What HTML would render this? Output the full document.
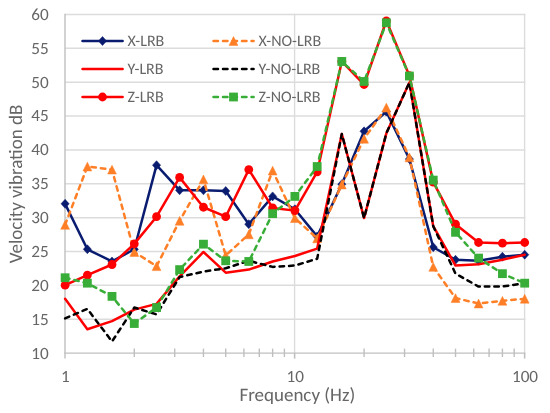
<!DOCTYPE html>
<html><head><meta charset="utf-8"><style>
html,body{margin:0;padding:0;background:#fff;}
svg{display:block;}
text{font-family:"Carlito","Liberation Sans",sans-serif;fill:#666666;text-rendering:geometricPrecision;}
.tk{font-size:17.2px;}
.lg{font-size:16px;}
.tt{font-size:19px;}
</style></head><body>
<svg width="550" height="413" viewBox="0 0 550 413">
<rect width="550" height="413" fill="#fff"/>
<line x1="65.1" y1="319.23" x2="525.40" y2="319.23" stroke="#DCDCDC" stroke-width="1.5"/>
<line x1="65.1" y1="285.37" x2="525.40" y2="285.37" stroke="#DCDCDC" stroke-width="1.5"/>
<line x1="65.1" y1="251.50" x2="525.40" y2="251.50" stroke="#DCDCDC" stroke-width="1.5"/>
<line x1="65.1" y1="217.64" x2="525.40" y2="217.64" stroke="#DCDCDC" stroke-width="1.5"/>
<line x1="65.1" y1="183.77" x2="525.40" y2="183.77" stroke="#DCDCDC" stroke-width="1.5"/>
<line x1="65.1" y1="149.91" x2="525.40" y2="149.91" stroke="#DCDCDC" stroke-width="1.5"/>
<line x1="65.1" y1="116.05" x2="525.40" y2="116.05" stroke="#DCDCDC" stroke-width="1.5"/>
<line x1="65.1" y1="82.18" x2="525.40" y2="82.18" stroke="#DCDCDC" stroke-width="1.5"/>
<line x1="65.1" y1="48.31" x2="525.40" y2="48.31" stroke="#DCDCDC" stroke-width="1.5"/>
<line x1="65.1" y1="14.45" x2="525.40" y2="14.45" stroke="#DCDCDC" stroke-width="1.5"/>
<line x1="294.60" y1="13.75" x2="294.60" y2="358.5" stroke="#DCDCDC" stroke-width="1.4"/>
<line x1="524.60" y1="13.75" x2="524.60" y2="358.5" stroke="#DCDCDC" stroke-width="1.4"/>
<line x1="65.0" y1="13.75" x2="65.0" y2="358.5" stroke="#BFBFBF" stroke-width="1.4"/>
<line x1="64.3" y1="353.10" x2="525.40" y2="353.10" stroke="#BFBFBF" stroke-width="1.4"/>
<line x1="134.28" y1="348.6" x2="134.28" y2="357" stroke="#BFBFBF" stroke-width="1.4"/>
<line x1="174.74" y1="348.6" x2="174.74" y2="357" stroke="#BFBFBF" stroke-width="1.4"/>
<line x1="203.45" y1="348.6" x2="203.45" y2="357" stroke="#BFBFBF" stroke-width="1.4"/>
<line x1="225.72" y1="348.6" x2="225.72" y2="357" stroke="#BFBFBF" stroke-width="1.4"/>
<line x1="243.92" y1="348.6" x2="243.92" y2="357" stroke="#BFBFBF" stroke-width="1.4"/>
<line x1="259.30" y1="348.6" x2="259.30" y2="357" stroke="#BFBFBF" stroke-width="1.4"/>
<line x1="272.63" y1="348.6" x2="272.63" y2="357" stroke="#BFBFBF" stroke-width="1.4"/>
<line x1="284.38" y1="348.6" x2="284.38" y2="357" stroke="#BFBFBF" stroke-width="1.4"/>
<line x1="364.08" y1="348.6" x2="364.08" y2="357" stroke="#BFBFBF" stroke-width="1.4"/>
<line x1="404.54" y1="348.6" x2="404.54" y2="357" stroke="#BFBFBF" stroke-width="1.4"/>
<line x1="433.25" y1="348.6" x2="433.25" y2="357" stroke="#BFBFBF" stroke-width="1.4"/>
<line x1="455.52" y1="348.6" x2="455.52" y2="357" stroke="#BFBFBF" stroke-width="1.4"/>
<line x1="473.72" y1="348.6" x2="473.72" y2="357" stroke="#BFBFBF" stroke-width="1.4"/>
<line x1="489.10" y1="348.6" x2="489.10" y2="357" stroke="#BFBFBF" stroke-width="1.4"/>
<line x1="502.43" y1="348.6" x2="502.43" y2="357" stroke="#BFBFBF" stroke-width="1.4"/>
<line x1="514.18" y1="348.6" x2="514.18" y2="357" stroke="#BFBFBF" stroke-width="1.4"/>
<line x1="294.6" y1="353.10" x2="294.6" y2="358.5" stroke="#BFBFBF" stroke-width="1.4"/>
<line x1="524.6" y1="353.10" x2="524.6" y2="358.5" stroke="#BFBFBF" stroke-width="1.4"/>
<polyline points="65.10,203.84 87.37,249.27 112.01,261.47 134.28,249.27 156.55,165.19 179.61,190.28 203.45,190.28 225.72,190.96 248.79,224.18 272.63,196.38 294.90,209.26 317.17,236.38 341.81,184.18 364.08,131.29 386.35,111.63 409.41,159.09 433.25,247.23 455.52,259.77 478.59,260.79 502.43,256.72 524.70,254.69" fill="none" stroke="#0A1C70" stroke-width="2.5" stroke-linejoin="round" stroke-linecap="round"/>
<path d="M65.10 199.34L69.20 203.84L65.10 208.34L61.00 203.84Z" fill="#0A1C70" stroke="#0A1C70" stroke-width="0.5"/>
<path d="M87.37 244.77L91.47 249.27L87.37 253.77L83.27 249.27Z" fill="#0A1C70" stroke="#0A1C70" stroke-width="0.5"/>
<path d="M112.01 256.97L116.11 261.47L112.01 265.97L107.91 261.47Z" fill="#0A1C70" stroke="#0A1C70" stroke-width="0.5"/>
<path d="M134.28 244.77L138.38 249.27L134.28 253.77L130.18 249.27Z" fill="#0A1C70" stroke="#0A1C70" stroke-width="0.5"/>
<path d="M156.55 160.69L160.65 165.19L156.55 169.69L152.45 165.19Z" fill="#0A1C70" stroke="#0A1C70" stroke-width="0.5"/>
<path d="M179.61 185.78L183.71 190.28L179.61 194.78L175.51 190.28Z" fill="#0A1C70" stroke="#0A1C70" stroke-width="0.5"/>
<path d="M203.45 185.78L207.55 190.28L203.45 194.78L199.35 190.28Z" fill="#0A1C70" stroke="#0A1C70" stroke-width="0.5"/>
<path d="M225.72 186.46L229.82 190.96L225.72 195.46L221.62 190.96Z" fill="#0A1C70" stroke="#0A1C70" stroke-width="0.5"/>
<path d="M248.79 219.68L252.89 224.18L248.79 228.68L244.69 224.18Z" fill="#0A1C70" stroke="#0A1C70" stroke-width="0.5"/>
<path d="M272.63 191.88L276.73 196.38L272.63 200.88L268.53 196.38Z" fill="#0A1C70" stroke="#0A1C70" stroke-width="0.5"/>
<path d="M294.90 204.76L299.00 209.26L294.90 213.76L290.80 209.26Z" fill="#0A1C70" stroke="#0A1C70" stroke-width="0.5"/>
<path d="M317.17 231.88L321.27 236.38L317.17 240.88L313.07 236.38Z" fill="#0A1C70" stroke="#0A1C70" stroke-width="0.5"/>
<path d="M341.81 179.68L345.91 184.18L341.81 188.68L337.71 184.18Z" fill="#0A1C70" stroke="#0A1C70" stroke-width="0.5"/>
<path d="M364.08 126.79L368.18 131.29L364.08 135.79L359.98 131.29Z" fill="#0A1C70" stroke="#0A1C70" stroke-width="0.5"/>
<path d="M386.35 107.13L390.45 111.63L386.35 116.13L382.25 111.63Z" fill="#0A1C70" stroke="#0A1C70" stroke-width="0.5"/>
<path d="M409.41 154.59L413.51 159.09L409.41 163.59L405.31 159.09Z" fill="#0A1C70" stroke="#0A1C70" stroke-width="0.5"/>
<path d="M433.25 242.73L437.35 247.23L433.25 251.73L429.15 247.23Z" fill="#0A1C70" stroke="#0A1C70" stroke-width="0.5"/>
<path d="M455.52 255.27L459.62 259.77L455.52 264.27L451.42 259.77Z" fill="#0A1C70" stroke="#0A1C70" stroke-width="0.5"/>
<path d="M478.59 256.29L482.69 260.79L478.59 265.29L474.49 260.79Z" fill="#0A1C70" stroke="#0A1C70" stroke-width="0.5"/>
<path d="M502.43 252.22L506.53 256.72L502.43 261.22L498.33 256.72Z" fill="#0A1C70" stroke="#0A1C70" stroke-width="0.5"/>
<path d="M524.70 250.19L528.80 254.69L524.70 259.19L520.60 254.69Z" fill="#0A1C70" stroke="#0A1C70" stroke-width="0.5"/>
<polyline points="65.10,224.86 87.37,166.55 112.01,169.60 134.28,251.98 156.55,266.22 179.61,220.79 203.45,179.43 225.72,255.37 248.79,234.35 272.63,170.62 294.90,218.08 317.17,238.42 341.81,184.52 364.08,138.75 386.35,107.56 409.41,157.40 433.25,266.89 455.52,298.08 478.59,303.51 502.43,300.79 524.70,298.76" fill="none" stroke="#FF7F27" stroke-width="2.5" stroke-linejoin="round" stroke-dasharray="4.5 5" stroke-linecap="round"/>
<path d="M65.10 220.46L69.50 229.26L60.70 229.26Z" fill="#FF7F27" stroke="#FF7F27" stroke-width="0.5" stroke-linejoin="round"/>
<path d="M87.37 162.15L91.77 170.95L82.97 170.95Z" fill="#FF7F27" stroke="#FF7F27" stroke-width="0.5" stroke-linejoin="round"/>
<path d="M112.01 165.20L116.41 174.00L107.61 174.00Z" fill="#FF7F27" stroke="#FF7F27" stroke-width="0.5" stroke-linejoin="round"/>
<path d="M134.28 247.58L138.68 256.38L129.88 256.38Z" fill="#FF7F27" stroke="#FF7F27" stroke-width="0.5" stroke-linejoin="round"/>
<path d="M156.55 261.82L160.95 270.62L152.15 270.62Z" fill="#FF7F27" stroke="#FF7F27" stroke-width="0.5" stroke-linejoin="round"/>
<path d="M179.61 216.39L184.01 225.19L175.21 225.19Z" fill="#FF7F27" stroke="#FF7F27" stroke-width="0.5" stroke-linejoin="round"/>
<path d="M203.45 175.03L207.85 183.83L199.05 183.83Z" fill="#FF7F27" stroke="#FF7F27" stroke-width="0.5" stroke-linejoin="round"/>
<path d="M225.72 250.97L230.12 259.77L221.32 259.77Z" fill="#FF7F27" stroke="#FF7F27" stroke-width="0.5" stroke-linejoin="round"/>
<path d="M248.79 229.95L253.19 238.75L244.39 238.75Z" fill="#FF7F27" stroke="#FF7F27" stroke-width="0.5" stroke-linejoin="round"/>
<path d="M272.63 166.22L277.03 175.02L268.23 175.02Z" fill="#FF7F27" stroke="#FF7F27" stroke-width="0.5" stroke-linejoin="round"/>
<path d="M294.90 213.68L299.30 222.48L290.50 222.48Z" fill="#FF7F27" stroke="#FF7F27" stroke-width="0.5" stroke-linejoin="round"/>
<path d="M317.17 234.02L321.57 242.82L312.77 242.82Z" fill="#FF7F27" stroke="#FF7F27" stroke-width="0.5" stroke-linejoin="round"/>
<path d="M341.81 180.12L346.21 188.92L337.41 188.92Z" fill="#FF7F27" stroke="#FF7F27" stroke-width="0.5" stroke-linejoin="round"/>
<path d="M364.08 134.35L368.48 143.15L359.68 143.15Z" fill="#FF7F27" stroke="#FF7F27" stroke-width="0.5" stroke-linejoin="round"/>
<path d="M386.35 103.16L390.75 111.96L381.95 111.96Z" fill="#FF7F27" stroke="#FF7F27" stroke-width="0.5" stroke-linejoin="round"/>
<path d="M409.41 153.00L413.81 161.80L405.01 161.80Z" fill="#FF7F27" stroke="#FF7F27" stroke-width="0.5" stroke-linejoin="round"/>
<path d="M433.25 262.49L437.65 271.29L428.85 271.29Z" fill="#FF7F27" stroke="#FF7F27" stroke-width="0.5" stroke-linejoin="round"/>
<path d="M455.52 293.68L459.92 302.48L451.12 302.48Z" fill="#FF7F27" stroke="#FF7F27" stroke-width="0.5" stroke-linejoin="round"/>
<path d="M478.59 299.11L482.99 307.91L474.19 307.91Z" fill="#FF7F27" stroke="#FF7F27" stroke-width="0.5" stroke-linejoin="round"/>
<path d="M502.43 296.39L506.83 305.19L498.03 305.19Z" fill="#FF7F27" stroke="#FF7F27" stroke-width="0.5" stroke-linejoin="round"/>
<path d="M524.70 294.36L529.10 303.16L520.30 303.16Z" fill="#FF7F27" stroke="#FF7F27" stroke-width="0.5" stroke-linejoin="round"/>
<polyline points="65.10,298.76 87.37,329.27 112.01,321.13 134.28,309.61 156.55,303.85 179.61,276.39 203.45,251.98 225.72,272.66 248.79,269.61 272.63,261.47 294.90,256.05 317.17,248.59 341.81,134.01 364.08,218.08 386.35,133.33 409.41,82.48 433.25,226.21 455.52,265.54 478.59,264.18 502.43,259.77 524.70,254.69" fill="none" stroke="#FF0000" stroke-width="2.5" stroke-linejoin="round" stroke-linecap="round"/>
<polyline points="65.10,318.42 87.37,308.93 112.01,341.47 134.28,307.57 156.55,314.35 179.61,277.06 203.45,271.64 225.72,268.25 248.79,260.79 272.63,266.89 294.90,265.54 317.17,258.76 341.81,134.01 364.08,218.08 386.35,133.33 409.41,82.48 433.25,226.21 455.52,273.67 478.59,286.56 502.43,286.56 524.70,283.17" fill="none" stroke="#000000" stroke-width="2.5" stroke-linejoin="round" stroke-dasharray="4.5 5" stroke-linecap="round"/>
<polyline points="65.10,285.20 87.37,275.03 112.01,264.52 134.28,243.84 156.55,216.72 179.61,177.40 203.45,207.23 225.72,216.72 248.79,169.60 272.63,207.91 294.90,210.62 317.17,171.97 341.81,61.46 364.08,84.51 386.35,20.78 409.41,75.70 433.25,182.14 455.52,224.18 478.59,242.49 502.43,243.16 524.70,242.49" fill="none" stroke="#FF0000" stroke-width="2.5" stroke-linejoin="round" stroke-linecap="round"/>
<circle cx="65.10" cy="285.20" r="4.4" fill="#FF0000"/>
<circle cx="87.37" cy="275.03" r="4.4" fill="#FF0000"/>
<circle cx="112.01" cy="264.52" r="4.4" fill="#FF0000"/>
<circle cx="134.28" cy="243.84" r="4.4" fill="#FF0000"/>
<circle cx="156.55" cy="216.72" r="4.4" fill="#FF0000"/>
<circle cx="179.61" cy="177.40" r="4.4" fill="#FF0000"/>
<circle cx="203.45" cy="207.23" r="4.4" fill="#FF0000"/>
<circle cx="225.72" cy="216.72" r="4.4" fill="#FF0000"/>
<circle cx="248.79" cy="169.60" r="4.4" fill="#FF0000"/>
<circle cx="272.63" cy="207.91" r="4.4" fill="#FF0000"/>
<circle cx="294.90" cy="210.62" r="4.4" fill="#FF0000"/>
<circle cx="317.17" cy="171.97" r="4.4" fill="#FF0000"/>
<circle cx="341.81" cy="61.46" r="4.4" fill="#FF0000"/>
<circle cx="364.08" cy="84.51" r="4.4" fill="#FF0000"/>
<circle cx="386.35" cy="20.78" r="4.4" fill="#FF0000"/>
<circle cx="409.41" cy="75.70" r="4.4" fill="#FF0000"/>
<circle cx="433.25" cy="182.14" r="4.4" fill="#FF0000"/>
<circle cx="455.52" cy="224.18" r="4.4" fill="#FF0000"/>
<circle cx="478.59" cy="242.49" r="4.4" fill="#FF0000"/>
<circle cx="502.43" cy="243.16" r="4.4" fill="#FF0000"/>
<circle cx="524.70" cy="242.49" r="4.4" fill="#FF0000"/>
<polyline points="65.10,277.74 87.37,283.17 112.01,296.39 134.28,323.51 156.55,307.57 179.61,269.61 203.45,244.18 225.72,260.79 248.79,261.47 272.63,213.67 294.90,196.38 317.17,166.55 341.81,61.46 364.08,81.46 386.35,22.81 409.41,76.04 433.25,180.11 455.52,232.32 478.59,258.08 502.43,273.67 524.70,283.17" fill="none" stroke="#38AE38" stroke-width="2.5" stroke-linejoin="round" stroke-dasharray="4.5 5" stroke-linecap="round"/>
<rect x="60.70" y="273.34" width="8.8" height="8.8" fill="#38AE38"/>
<rect x="82.97" y="278.77" width="8.8" height="8.8" fill="#38AE38"/>
<rect x="107.61" y="291.99" width="8.8" height="8.8" fill="#38AE38"/>
<rect x="129.88" y="319.11" width="8.8" height="8.8" fill="#38AE38"/>
<rect x="152.15" y="303.17" width="8.8" height="8.8" fill="#38AE38"/>
<rect x="175.21" y="265.21" width="8.8" height="8.8" fill="#38AE38"/>
<rect x="199.05" y="239.78" width="8.8" height="8.8" fill="#38AE38"/>
<rect x="221.32" y="256.39" width="8.8" height="8.8" fill="#38AE38"/>
<rect x="244.39" y="257.07" width="8.8" height="8.8" fill="#38AE38"/>
<rect x="268.23" y="209.27" width="8.8" height="8.8" fill="#38AE38"/>
<rect x="290.50" y="191.98" width="8.8" height="8.8" fill="#38AE38"/>
<rect x="312.77" y="162.15" width="8.8" height="8.8" fill="#38AE38"/>
<rect x="337.41" y="57.06" width="8.8" height="8.8" fill="#38AE38"/>
<rect x="359.68" y="77.06" width="8.8" height="8.8" fill="#38AE38"/>
<rect x="381.95" y="18.41" width="8.8" height="8.8" fill="#38AE38"/>
<rect x="405.01" y="71.64" width="8.8" height="8.8" fill="#38AE38"/>
<rect x="428.85" y="175.71" width="8.8" height="8.8" fill="#38AE38"/>
<rect x="451.12" y="227.92" width="8.8" height="8.8" fill="#38AE38"/>
<rect x="474.19" y="253.68" width="8.8" height="8.8" fill="#38AE38"/>
<rect x="498.03" y="269.27" width="8.8" height="8.8" fill="#38AE38"/>
<rect x="520.30" y="278.77" width="8.8" height="8.8" fill="#38AE38"/>
<line x1="82.50" y1="41.0" x2="122.60" y2="41.0" stroke="#0A1C70" stroke-width="2.5" stroke-linecap="round"/>
<path d="M102.50 36.50L106.60 41.00L102.50 45.50L98.40 41.00Z" fill="#0A1C70" stroke="#0A1C70" stroke-width="0.5"/>
<text x="127.60" y="46.00" class="lg">X-LRB</text>
<line x1="213.50" y1="41.0" x2="253.60" y2="41.0" stroke="#FF7F27" stroke-width="2.5" stroke-dasharray="4.5 5" stroke-linecap="round"/>
<path d="M233.50 36.60L237.90 45.40L229.10 45.40Z" fill="#FF7F27" stroke="#FF7F27" stroke-width="0.5" stroke-linejoin="round"/>
<text x="258.60" y="46.00" class="lg">X-NO-LRB</text>
<line x1="82.50" y1="69.0" x2="122.60" y2="69.0" stroke="#FF0000" stroke-width="2.5" stroke-linecap="round"/>
<text x="127.60" y="74.00" class="lg">Y-LRB</text>
<line x1="213.50" y1="69.0" x2="253.60" y2="69.0" stroke="#000000" stroke-width="2.5" stroke-dasharray="4.5 5" stroke-linecap="round"/>
<text x="258.60" y="74.00" class="lg">Y-NO-LRB</text>
<line x1="82.50" y1="97.0" x2="122.60" y2="97.0" stroke="#FF0000" stroke-width="2.5" stroke-linecap="round"/>
<circle cx="102.50" cy="97.00" r="4.4" fill="#FF0000"/>
<text x="127.60" y="102.00" class="lg">Z-LRB</text>
<line x1="213.50" y1="97.0" x2="253.60" y2="97.0" stroke="#38AE38" stroke-width="2.5" stroke-dasharray="4.5 5" stroke-linecap="round"/>
<rect x="229.10" y="92.60" width="8.8" height="8.8" fill="#38AE38"/>
<text x="258.60" y="102.00" class="lg">Z-NO-LRB</text>
<text x="48.7" y="358.70" class="tk" text-anchor="end">10</text>
<text x="48.7" y="324.80" class="tk" text-anchor="end">15</text>
<text x="48.7" y="290.90" class="tk" text-anchor="end">20</text>
<text x="48.7" y="257.00" class="tk" text-anchor="end">25</text>
<text x="48.7" y="223.10" class="tk" text-anchor="end">30</text>
<text x="48.7" y="189.20" class="tk" text-anchor="end">35</text>
<text x="48.7" y="155.30" class="tk" text-anchor="end">40</text>
<text x="48.7" y="121.40" class="tk" text-anchor="end">45</text>
<text x="48.7" y="87.50" class="tk" text-anchor="end">50</text>
<text x="48.7" y="53.60" class="tk" text-anchor="end">55</text>
<text x="48.7" y="19.70" class="tk" text-anchor="end">60</text>
<text x="65.40" y="381.5" class="tk" text-anchor="middle">1</text>
<text x="295.20" y="381.5" class="tk" text-anchor="middle">10</text>
<text x="525.00" y="381.5" class="tk" text-anchor="middle">100</text>
<text x="297.3" y="401.0" class="tt" text-anchor="middle">Frequency (Hz)</text>
<text transform="translate(21.8 184.0) rotate(-90)" class="tt" text-anchor="middle">Velocity vibration dB</text>
</svg>
</body></html>
